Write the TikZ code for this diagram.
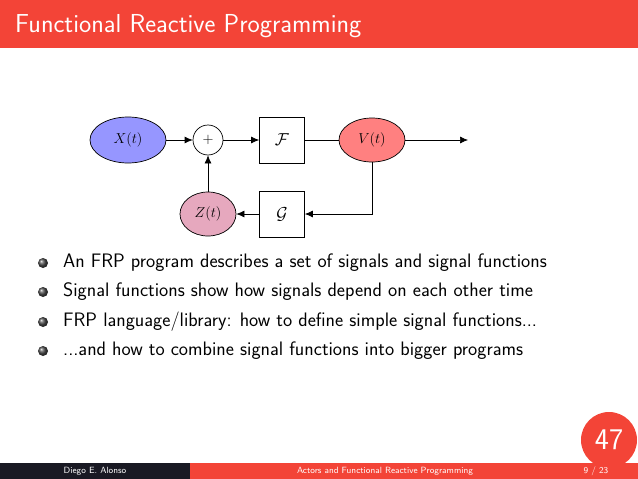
\documentclass[tikz,border=0pt]{standalone}
\usepackage{amsmath}
\usetikzlibrary{arrows.meta,shapes.geometric}
\definecolor{bred}{RGB}{243,68,55}
\definecolor{bdark}{RGB}{25,25,35}
\tikzset{
 ell/.style={draw,ellipse,line width=0.7pt,minimum width=#1,font=\Large,inner sep=1pt},
 box/.style={draw,line width=0.7pt,minimum width=45pt,minimum height=46pt,font=\LARGE},
 conn/.style={line width=0.7pt,-{Latex[length=8pt,width=7pt]}},
 btext/.style={anchor=west,font=\sffamily\fontsize{19.5}{22}\selectfont},
 bul/.style={circle,inner sep=0,minimum size=10pt,ball color=black!70},
 foot/.style={text=white,font=\sffamily\fontsize{9}{10}\selectfont},
}
\begin{document}
\begin{tikzpicture}[x=1pt,y=-1pt]
\useasboundingbox (0,0) rectangle (638,479);
\fill[bred] (0,0) rectangle (638,48);
\node[anchor=west,text=white,font=\sffamily\fontsize{26}{30}\selectfont,inner sep=0] (title) at (15,26) {Functional Reactive Programming};
\node[ell=76pt,minimum height=46pt,fill={rgb,255:red,150;green,150;blue,255}] (X) at (128,140) {$X(t)$};
\node[draw,circle,line width=0.7pt,minimum size=30pt,inner sep=0,font=\Large] (P) at (208,140) {$+$};
\node[box] (F) at (282,140) {$\mathcal{F}$};
\node[ell=66pt,minimum height=44pt,fill={rgb,255:red,255;green,128;blue,128}] (V) at (372,140) {$V(t)$};
\coordinate (out) at (468,140);
\node[box] (G) at (282,214) {$\mathcal{G}$};
\node[ell=56pt,minimum height=44pt,fill={rgb,255:red,230;green,168;blue,190}] (Z) at (208,214) {$Z(t)$};
\draw[conn] (X) -- (P);
\draw[conn] (P) -- (F);
\draw[line width=0.7pt] (F) -- (V);
\draw[conn] (V) -- (out);
\draw[conn] (V.south) |- (G.east);
\draw[conn] (G) -- (Z);
\draw[conn] (Z) -- (P);
\foreach \y/\t [count=\i] in {263/{An FRP program describes a set of signals and signal functions},
 292/{Signal functions show how signals depend on each other time},
 322/{FRP language/library: how to define simple signal functions...},
 351/{...and how to combine signal functions into bigger programs}}{
 \node[bul] (b\i) at (43,\y) {};
 \node[btext,inner sep=0] (t\i) at (63,\y) {\t};
}
\node[circle,fill=bred,minimum size=56pt,text=white,font=\sffamily\fontsize{30}{32}\selectfont] (n) at (609,440) {47};
\fill[bdark] (0,463) rectangle (190,479);
\fill[bred] (190,463) rectangle (638,479);
\node[foot] (f1) at (95,471) {Diego E. Alonso};
\node[foot] (f2) at (385,471) {Actors and Functional Reactive Programming};
\node[foot] (f3) at (596,471) {9 / 23};
\end{tikzpicture}
\end{document}
